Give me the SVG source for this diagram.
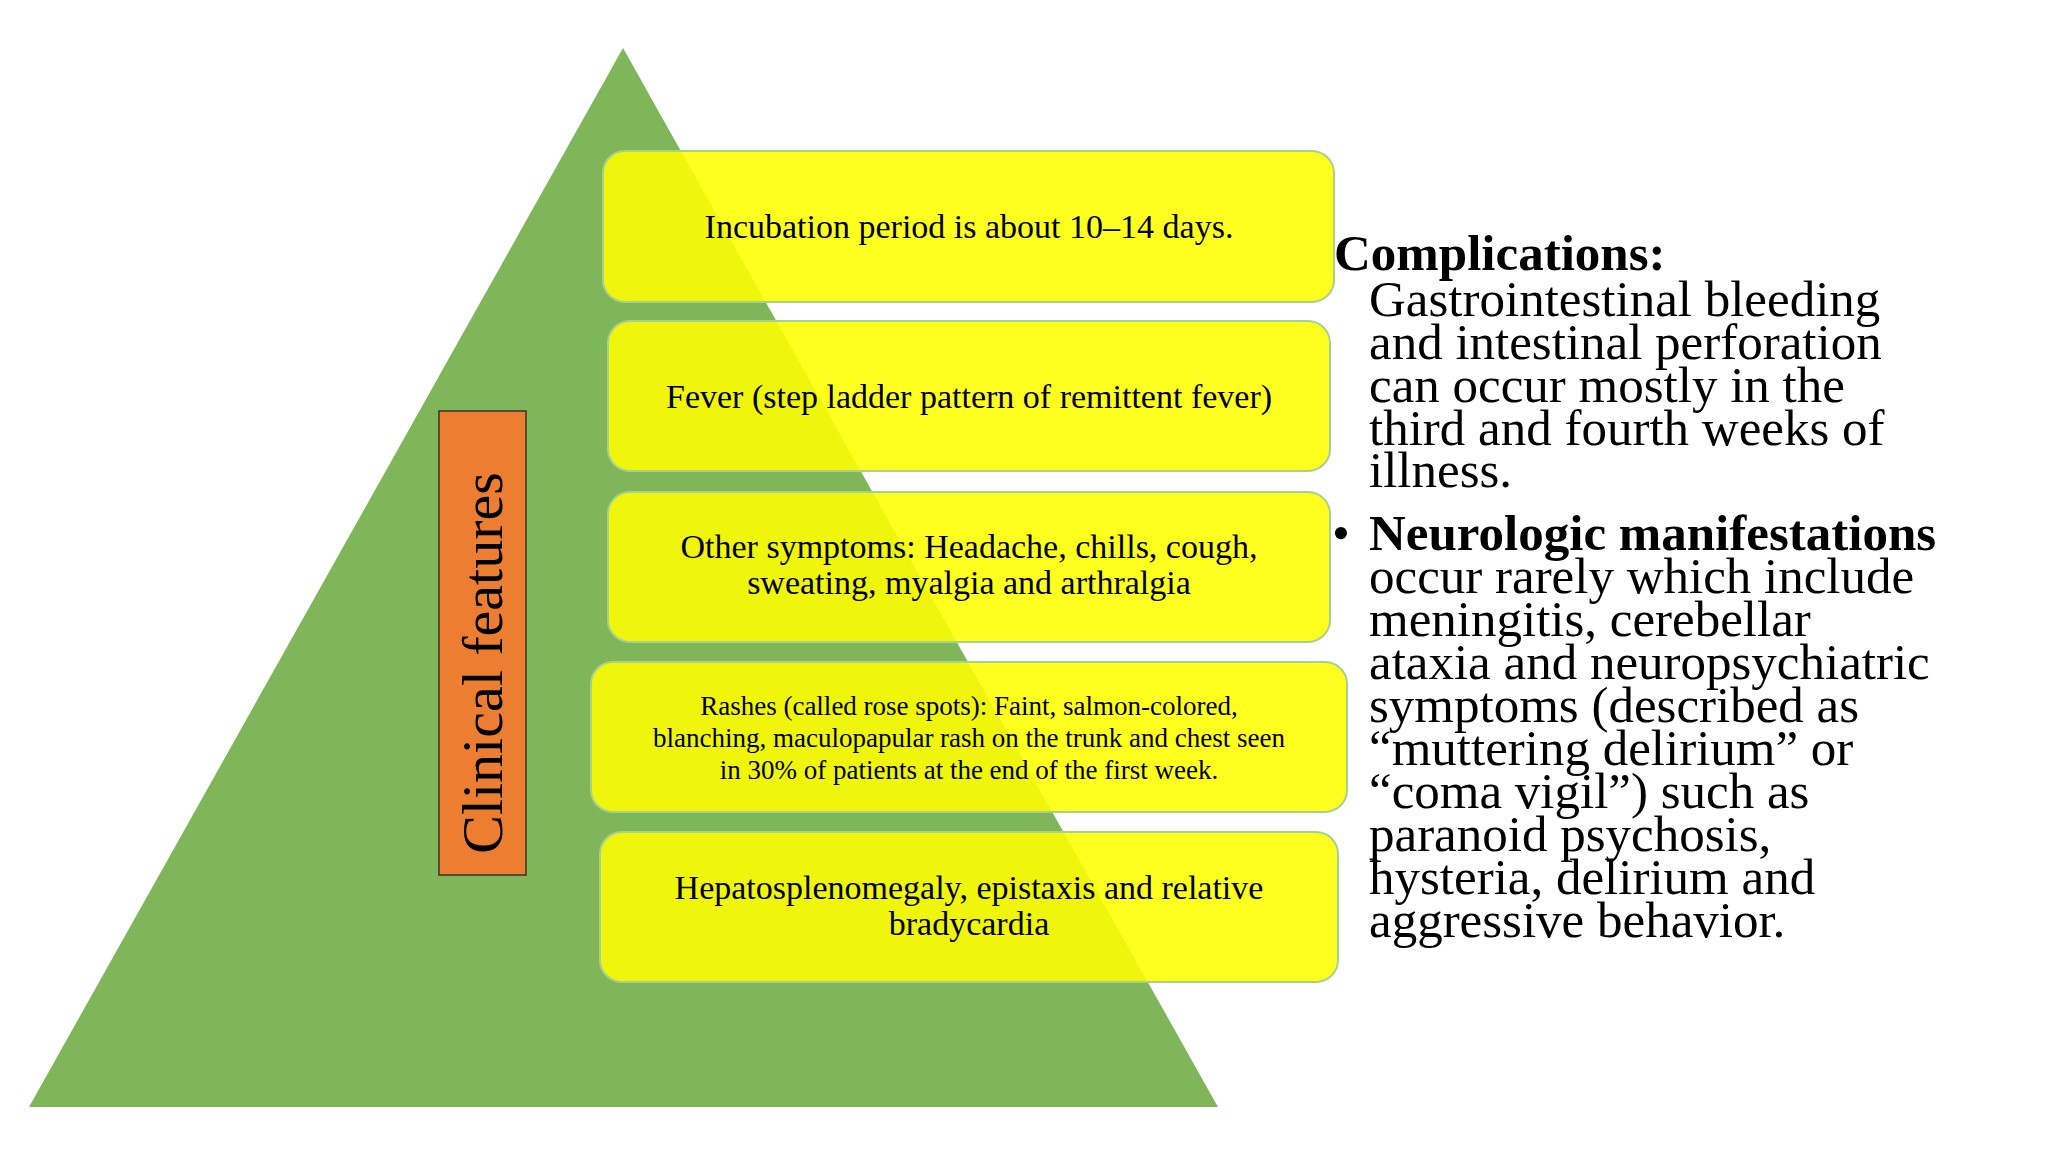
<svg xmlns="http://www.w3.org/2000/svg" width="2048" height="1152" viewBox="0 0 2048 1152">
<style>
.box{fill:#ffff00;fill-opacity:0.88;stroke:#a9d18e;stroke-width:2}
.bt{font-family:"Liberation Serif",serif;font-size:34px;fill:#000;text-anchor:middle}
.sm{font-size:27px}
.rt{font-family:"Liberation Serif",serif;font-size:51px;fill:#000}
</style>
<rect width="2048" height="1152" fill="#fff"/>
<g id="pyramid"><polygon points="623,48 29,1107 1218,1107" fill="#7fb65a"/></g>
<g id="label"><rect x="439" y="411" width="87" height="464" fill="#ed7d31" stroke="#333" stroke-width="1.5"/>
<text transform="translate(502,663) rotate(-90)" font-family="Liberation Serif,serif" font-size="58" text-anchor="middle">Clinical features</text></g>
<g id="b1"><rect class="box" x="603" y="151" width="731" height="151" rx="22"/><text class="bt" x="969" y="238">Incubation period is about 10–14 days.</text></g>
<g id="b2"><rect class="box" x="608" y="321" width="722" height="150" rx="22"/><text class="bt" x="969" y="408">Fever (step ladder pattern of remittent fever)</text></g>
<g id="b3"><rect class="box" x="608" y="492" width="722" height="150" rx="22"/><text class="bt" x="969" y="558">Other symptoms: Headache, chills, cough,</text><text class="bt" x="969" y="594">sweating, myalgia and arthralgia</text></g>
<g id="b4"><rect class="box" x="591" y="662" width="756" height="150" rx="22"/><text class="bt sm" x="969" y="715">Rashes (called rose spots): Faint, salmon-colored,</text><text class="bt sm" x="969" y="747">blanching, maculopapular rash on the trunk and chest seen</text><text class="bt sm" x="969" y="779">in 30% of patients at the end of the first week.</text></g>
<g id="b5"><rect class="box" x="600" y="832" width="738" height="150" rx="22"/><text class="bt" x="969" y="899">Hepatosplenomegaly, epistaxis and relative</text><text class="bt" x="969" y="935">bradycardia</text></g>
<g id="notes">
<text class="rt" x="1334" y="270" font-weight="bold">Complications:</text>
<text class="rt" x="1369" y="316">Gastrointestinal bleeding</text>
<text class="rt" x="1369" y="359">and intestinal perforation</text>
<text class="rt" x="1369" y="402">can occur mostly in the</text>
<text class="rt" x="1369" y="445">third and fourth weeks of</text>
<text class="rt" x="1369" y="487">illness.</text>
<text class="rt" x="1332" y="550">•</text>
<text class="rt" x="1369" y="550" font-weight="bold">Neurologic manifestations</text>
<text class="rt" x="1369" y="593">occur rarely which include</text>
<text class="rt" x="1369" y="636">meningitis, cerebellar</text>
<text class="rt" x="1369" y="679">ataxia and neuropsychiatric</text>
<text class="rt" x="1369" y="722">symptoms (described as</text>
<text class="rt" x="1369" y="765">“muttering delirium” or</text>
<text class="rt" x="1369" y="808">“coma vigil”) such as</text>
<text class="rt" x="1369" y="851">paranoid psychosis,</text>
<text class="rt" x="1369" y="894">hysteria, delirium and</text>
<text class="rt" x="1369" y="937">aggressive behavior.</text>
</g>
</svg>
